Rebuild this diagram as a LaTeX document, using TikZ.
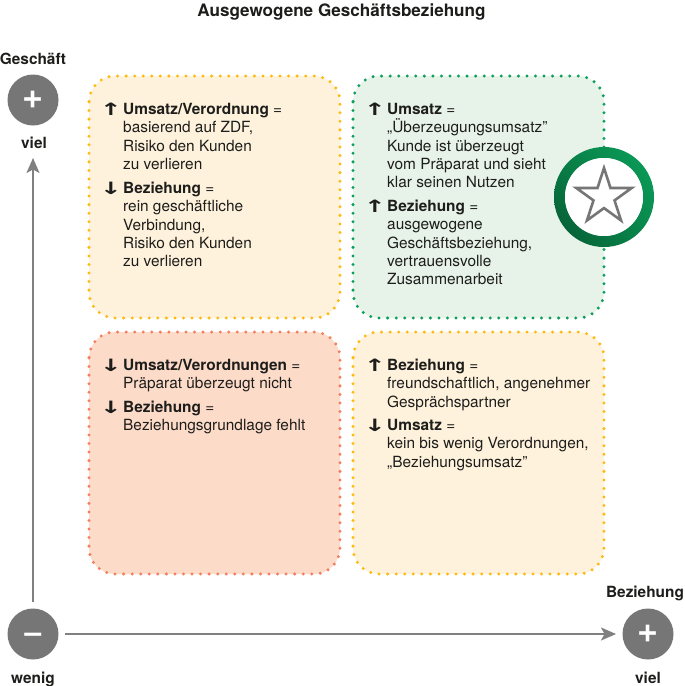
\documentclass[tikz,border=0pt]{standalone}
\usepackage{graphicx}
\usepackage{fontspec}
\setmainfont{TeX Gyre Heros}
\newfontfamily\arrowfont{DejaVu Sans}
\usetikzlibrary{arrows.meta,shapes.geometric,shadings}
\definecolor{txt}{HTML}{1D1D1B}
\definecolor{gr}{HTML}{767676}
\definecolor{arrowgr}{HTML}{808080}
\definecolor{yfill}{HTML}{FEF2DC}
\definecolor{ydot}{HTML}{FDBB11}
\definecolor{gfill}{HTML}{E7F2E8}
\definecolor{gdot}{HTML}{0BA05A}
\definecolor{rfill}{HTML}{FDDBC9}
\definecolor{rdot}{HTML}{F47E5E}
\newcommand{\up}{\scalebox{1.55}[1]{\arrowfont\bfseries ↑}}
\newcommand{\down}{\scalebox{1.55}[1]{\arrowfont\bfseries ↓}}
\newcommand{\fl}{\rule{0pt}{11pt}}
\tikzset{
  quad/.style={rounded corners=26pt,line width=3.3pt,line cap=round,dash pattern=on 0pt off 8.55pt},
  body/.style={anchor=north west,inner sep=0pt,align=left,text=txt,font=\fontsize{15.4}{18.3}\selectfont},
  arr/.style={anchor=base,inner sep=0pt,text=txt,font=\fontsize{17}{17}\selectfont},
  lab/.style={anchor=base,inner sep=0pt,text=txt,font=\fontsize{15.4}{15}\selectfont\bfseries},
  sign/.style={circle,fill=gr,minimum size=51pt,inner sep=0pt},
  signtext/.style={inner sep=0pt,text=white,font=\fontsize{36}{36}\selectfont\bfseries},
  axis/.style={draw=arrowgr,line width=2pt,-{Stealth[length=15pt,width=13pt,inset=3.5pt]}}
}
\begin{document}
\begin{tikzpicture}[x=1pt,y=-1pt]
\useasboundingbox (0,0) rectangle (685,686);
\fill[white] (0,0) rectangle (685,686);
% title
\node[anchor=base,inner sep=0pt,text=txt,font=\fontsize{17.1}{17}\selectfont\bfseries] (title) at (341.5,16) {Ausgewogene Geschäftsbeziehung};
% quadrants
\path[quad,fill=yfill,draw=ydot] (89,76) rectangle (340,318);
\path[quad,fill=gfill,draw=gdot] (353,76) rectangle (604,318);
\path[quad,fill=rfill,draw=rdot] (89,332) rectangle (340,574);
\path[quad,fill=yfill,draw=ydot] (353,332) rectangle (604,574);
% quadrant 1
\node[arr] (a1) at (111,115) {\up};
\node[body] (t1) at (123,103) {\fl\textbf{Umsatz/Verordnung} =\\basierend auf ZDF,\\Risiko den Kunden\\zu verlieren};
\node[arr] (a2) at (111,194) {\down};
\node[body] (t2) at (123,182) {\fl\textbf{Beziehung} =\\rein geschäftliche\\Verbindung,\\Risiko den Kunden\\zu verlieren};
% quadrant 2
\node[arr] (a3) at (375,115) {\up};
\node[body] (t3) at (387,103) {\fl\textbf{Umsatz} =\\„Überzeugungsumsatz”\\Kunde ist überzeugt\\vom Präparat und sieht\\klar seinen Nutzen};
\node[arr] (a4) at (375,212) {\up};
\node[body] (t4) at (387,200) {\fl\textbf{Beziehung} =\\ausgewogene\\Geschäftsbeziehung,\\vertrauensvolle\\Zusammenarbeit};
% quadrant 3
\node[arr] (a5) at (111,371) {\down};
\node[body] (t5) at (123,359) {\fl\textbf{Umsatz/Verordnungen} =\\Präparat überzeugt nicht};
\node[arr] (a6) at (111,413) {\down};
\node[body] (t6) at (123,401) {\fl\textbf{Beziehung} =\\Beziehungsgrundlage fehlt};
% quadrant 4
\node[arr] (a7) at (375,371) {\up};
\node[body] (t7) at (387,359) {\fl\textbf{Beziehung} =\\freundschaftlich, angenehmer\\Gesprächspartner};
\node[arr] (a8) at (375,431) {\down};
\node[body] (t8) at (387,419) {\fl\textbf{Umsatz} =\\kein bis wenig Verordnungen,\\„Beziehungsumsatz”};
% star badge
\shade[even odd rule,lower left=gdot!55!black,upper left=gdot!80!black,lower right=gdot!85!black,upper right=gdot]
  (604,197) circle[radius=50] (604,197) circle[radius=39];
\fill[white] (604,197) circle[radius=39];
\node[star,star points=5,star point ratio=2.618,draw=gr,line width=2.6pt,minimum size=58pt,inner sep=0pt] (star) at (604,197) {};
% axes
\node[sign] (gplus) at (33,100) {};
\node[signtext] (gsign) at (33,100) {+};
\node[sign] (wminus) at (33,634) {};
\node[signtext,font=\fontsize{30}{30}\selectfont\bfseries] (wsign) at (33,638) {–};
\node[sign] (bplus) at (648,634) {};
\node[signtext] (bsign) at (648,634) {+};
\node[lab] (geschaeft) at (33,64) {Geschäft};
\node[lab] (viel1) at (34,148) {viel};
\node[lab] (wenig) at (33,683) {wenig};
\node[lab] (beziehung) at (645,597) {Beziehung};
\node[lab] (viel2) at (648,683) {viel};
\coordinate (ytop) at (33,158);
\coordinate (ybot) at (33,602);
\coordinate (xleft) at (65,634);
\coordinate (xright) at (616,634);
\draw[axis] (ybot) -- (ytop);
\draw[axis] (xleft) -- (xright);
\end{tikzpicture}
\end{document}
